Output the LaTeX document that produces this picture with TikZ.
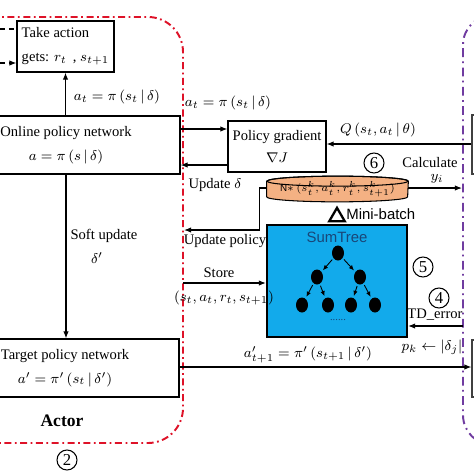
\documentclass[tikz,border=0pt]{standalone}
\usepackage{fontspec}
\setmainfont{Liberation Serif}
\setsansfont{Liberation Sans}
\usepackage{amsmath, amssymb}
\usetikzlibrary{arrows.meta}
\usetikzlibrary{shapes.geometric}
\usetikzlibrary{backgrounds}
\definecolor{actorred}{RGB}{222,18,40}
\definecolor{criticpurple}{RGB}{112,60,160}
\definecolor{bufferorange}{RGB}{244,177,131}
\definecolor{treeblue}{RGB}{18,170,235}
\definecolor{treetext}{RGB}{25,70,120}

\begin{document}
\begin{tikzpicture}[x=0.02cm, y=0.02cm, font=\fontsize{8.3}{9.5}\selectfont]
        % ================= styles =================
        \tikzset{
            % plain boxes
            netbox/.style={rectangle, draw=black, line width=0.6pt, fill=white, inner sep=1pt, align=center},
            % boxes of the critic, cut by the edge
            criticbox/.style={rectangle, draw=black!75, line width=0.6pt, fill=white},
            % connectors
            arr/.style={line width=0.6pt, -{Latex[length=4pt, width=3pt]}},
            dashline/.style={line width=0.6pt, dash pattern=on 3pt off 2pt},
            dasharr/.style={dashline, -{Latex[length=4pt, width=3pt]}},
            % dash-dot frames
            actorline/.style={actorred, line width=1.1pt, dash pattern=on 4pt off 2pt on 1pt off 2pt},
            criticline/.style={criticpurple, line width=1.1pt, dash pattern=on 5pt off 2.5pt on 1pt off 2.5pt},
            % circled numbers
            circnum/.style={circle, draw=black, line width=0.6pt, minimum size=0.4cm, inner sep=0pt, font=\fontsize{9.5}{10}\selectfont},
            % sum tree
            treebox/.style={rectangle, draw=black, line width=1.2pt, fill=treeblue, minimum width=2.8cm, minimum height=2.24cm},
            leaf/.style={ellipse, fill=black, minimum width=0.24cm, minimum height=0.3cm, inner sep=0pt},
            treearr/.style={line width=0.5pt, -{Latex[length=3pt, width=2.5pt]}, shorten <=1pt, shorten >=1pt},
            minitri/.style={regular polygon, regular polygon sides=3, draw=black, line width=1.3pt, fill=white, minimum size=0.36cm, inner sep=0pt},
            lbl/.style={inner sep=0pt}
        }
        \useasboundingbox (0,0) rectangle (474,-474);

        % ================= frames =================
        \draw[actorline, rounded corners=0.7cm] (-40,-17) -- (183,-17) -- (183,-443) -- (-40,-443);
        \draw[criticline, rounded corners=0.6cm] (520,-15) -- (463,-15) -- (463,-445) -- (520,-445);

        % ================= actor =================
        \node[netbox, align=left, minimum width=1.94cm, minimum height=1.02cm] (take) at (65.5,-46.5)
            {Take action\\[4pt]gets: $r_t$ \,, $s_{t+1}$};
        \node[netbox, minimum width=4.56cm, minimum height=1.16cm] (online) at (66,-145)
            {Online policy network\\[4pt]$a=\pi\left(s\,|\,\delta\right)$};
        \node[netbox, minimum width=4.56cm, minimum height=1.16cm] (target) at (65,-368)
            {Target policy network\\[4pt]$a'=\pi'\left(s_t\,|\,\delta'\right)$};
        \node[netbox, minimum width=1.96cm, minimum height=1.02cm] (pg) at (277,-146.5)
            {Policy gradient\\[3pt]$\nabla J$};

        % critic boxes on the right edge
        \node[criticbox, minimum width=1.76cm, minimum height=1.18cm] (q1) at (516,-144.5) {};
        \node[criticbox, minimum width=1.76cm, minimum height=1.14cm] (q2) at (516,-368.5) {};

        % environment (dashed, from the left)
        \coordinate (envA) at (0,-29);
        \coordinate (envB) at (0,-63);
        \draw[dashline] (envA) -- (envA -| take.west);
        \draw[dasharr] (envB) -- (envB -| take.west);

        \draw[arr] (take.south |- online.north) -- (take.south);
        \draw[arr] (online.south) -- (online.south |- target.north);
        \draw[arr] (online.east |- 0,-129) -- (pg.west |- 0,-129);
        \draw[arr] (pg.west |- 0,-165) -- (online.east |- 0,-165);
        \draw[arr] (q1.west |- 0,-144) -- (pg.east |- 0,-144);
        \draw[arr] (target.east |- 0,-367) -- (q2.west |- 0,-367);

        \node[lbl] (atlbl) at (117,-97) {$a_t=\pi\left(s_t\,|\,\delta\right)$};
        \node[lbl] (atlbl2) at (228,-103) {$a_t=\pi\left(s_t\,|\,\delta\right)$};
        \node[lbl] (qlbl) at (378,-130) {$Q\left(s_t, a_t\,|\,\theta\right)$};
        \node[lbl] (upd) at (215,-185) {Update $\delta$};
        \node[lbl] (soft) at (104,-236) {Soft update};
        \node[lbl] (softd) at (97,-258) {$\delta'$};
        \node[lbl] (tlbl) at (308,-355) {$a'_{t+1}=\pi'\left(s_{t+1}\,|\,\delta'\right)$};
        \node[lbl, font=\bfseries\fontsize{10}{11}\selectfont] (actor) at (62,-421) {Actor};
        \node[circnum] (c2) at (67,-460) {2};

        % ================= replay buffer =================
        \node[inner sep=0pt, minimum width=2.82cm, minimum height=0.5cm, font=\fontsize{5.6}{6}\selectfont] (buf) at (337.5,-189)
            {\textsf{N}$\ast$ $(s^k_t, a^k_t, r^k_t, s^k_{t+1})$};
        \begin{scope}[on background layer]
            \path[draw=black, line width=0.6pt, fill=bufferorange]
                ([yshift=-0.1cm]buf.north west) -- ([yshift=0.1cm]buf.south west)
                arc[start angle=180, end angle=360, x radius=1.41cm, y radius=0.1cm]
                -- ([yshift=-0.1cm]buf.north east)
                arc[start angle=0, end angle=180, x radius=1.41cm, y radius=0.1cm] -- cycle;
            \draw[line width=0.6pt] ([yshift=-0.1cm]buf.north) ellipse[x radius=1.41cm, y radius=0.1cm];
        \end{scope}
        \node[circnum] (c6) at (374,-163) {6};

        \coordinate (calcend) at (462,-188);
        \draw[arr] (buf.east |- calcend) -- (calcend);
        \node[lbl] (calc) at (430,-163) {Calculate};
        \node[lbl] (yi) at (437,-179) {$y_i$};

        \coordinate (updend) at (184,-230);
        \draw[arr] (buf.west |- calcend) -- ++(-7,0) |- (updend);
        \node[lbl] (updpol) at (225,-241) {Update policy};

        % ================= sum tree =================
        \node[treebox] (tree) at (337,-281) {};
        \node[lbl, font=\sffamily\fontsize{8.5}{9}\selectfont, text=treetext] (treelbl) at (337,-237) {SumTree};
        \node[leaf] (root) at (338,-253) {};
        \node[leaf] (m1) at (317,-277) {};
        \node[leaf] (m2) at (360,-277) {};
        \foreach \i/\x in {1/302, 2/328, 3/351, 4/375}
            \node[leaf] (l\i) at (\x,-305) {};
        \draw[treearr] (root) -- (m1);
        \draw[treearr] (root) -- (m2);
        \draw[treearr] (m1) -- (l1);
        \draw[treearr] (m1) -- (l2);
        \draw[treearr] (m2) -- (l3);
        \draw[treearr] (m2) -- (l4);
        \node[lbl, font=\fontsize{6}{6}\selectfont, text=treetext] (dots) at (338,-320) {......};

        % mini-batch: open triangle on top of the tree
        \node[minitri, anchor=south] (tri) at ([yshift=0.03cm]tree.north) {};
        \node[lbl, anchor=west, font=\sffamily\fontsize{8.5}{9}\selectfont] (mini) at (346,-214) {Mini-batch};

        \coordinate (storestart) at (183,-283);
        \draw[arr] (storestart) -- (tree.west |- storestart);
        \node[lbl] (store) at (219,-273) {Store};
        \node[lbl] (tuple) at (224,-298) {$\left(s_t, a_t, r_t, s_{t+1}\right)$};

        \coordinate (tdstart) at (463,-326);
        \draw[arr] (tdstart) -- (tree.east |- tdstart);
        \node[lbl] (td) at (435,-315) {TD\_error};
        \node[circnum] (c5) at (423,-267) {5};
        \node[circnum] (c4) at (439,-298) {4};
        \node[lbl] (pk) at (432,-347) {$p_k \leftarrow \left|\delta_j\right|$};

\end{tikzpicture}
\end{document}
